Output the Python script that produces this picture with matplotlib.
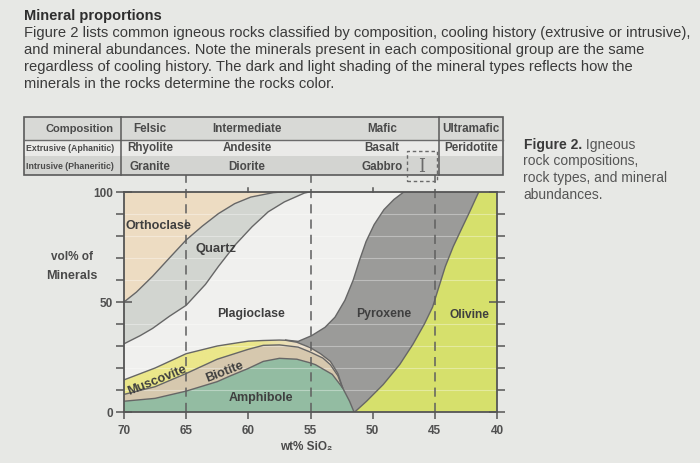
import numpy as np
import matplotlib
matplotlib.use('Agg')
import matplotlib.pyplot as plt
from matplotlib import font_manager
from matplotlib.patches import Polygon, Rectangle
from matplotlib.colors import to_rgb

# ---------------- data ----------------
sio2_ticks = [70, 65, 60, 55, 50, 45, 40]
vol_ticks = [0, 50, 100]
vol_minor = [10, 20, 30, 40, 60, 70, 80, 90]
group_bounds = [65, 55, 45]

# boundary curves: wt% SiO2 (x) vs cumulative vol% (y)
orth_x = [70, 69.0, 67.7, 66.35, 65, 63.7, 62.4, 61.1, 59.8, 58.0, 57.3]
orth_y = [50, 54.5, 61.7, 70, 78.2, 84.5, 90.2, 94.7, 97.7, 99.7, 100]

quartz_x = [70, 68.7, 67.7, 66.35, 65, 63.45, 62.4, 61.05, 59.7, 58.4, 57.1, 55.5, 55.1]
quartz_y = [31, 34.7, 38, 43.5, 48.5, 58, 66.2, 76, 84.2, 91, 95.5, 99.5, 100]

musc_x = [70, 67.5, 65, 62.5, 61.5, 60, 58.8, 57.5, 57, 56.1, 55, 54.2, 53.4, 52.8, 52.42]
musc_y = [14.6, 20, 26.5, 30, 30.9, 32.2, 32.5, 32.7, 32.6, 31.7, 29.2, 26.5, 23, 17.5, 11]

bio_x = [70, 67.5, 65, 62.5, 61.5, 60, 58.8, 57.5, 56, 55, 54, 53.4, 52.8, 52.42]
bio_y = [8, 11.5, 17.5, 24, 25.8, 28.5, 30.3, 30.5, 29.5, 27.2, 24.5, 21.5, 16.5, 11]

amph_x = [70, 67.5, 65, 62.5, 61.5, 60, 58.8, 57.5, 56.1, 55, 54.6, 53.25, 52.42, 51.86, 51.5]
amph_y = [4.9, 6.2, 9.5, 13.8, 16.3, 19.8, 23, 24.4, 24, 22.3, 21.5, 17.1, 11, 4.9, 0]

pyx_x = [57, 55.99, 54.91, 53.83, 53.03, 52.23, 51.57, 51.05, 50.53, 49.88, 49.09, 48.29, 47.5]
pyx_y = [32.7, 32.1, 34.7, 38.5, 43.1, 50.8, 59.9, 69.1, 77.5, 85.2, 92, 96.6, 100]

oliv_x = [51.44, 50.49, 49.15, 47.81, 46.75, 45.83, 45.18, 44.67, 44.16, 43.52, 42.88, 42.24, 41.47]
oliv_y = [0, 4.9, 12.5, 21.7, 30.9, 40.1, 47.7, 56.9, 66.1, 75.2, 82.9, 90.5, 100]

mineral_names = ['Orthoclase', 'Quartz', 'Plagioclase', 'Muscovite',
                 'Biotite', 'Amphibole', 'Pyroxene', 'Olivine']

compositions = ['Felsic', 'Intermediate', 'Mafic', 'Ultramafic']
extrusive_rocks = ['Rhyolite', 'Andesite', 'Basalt', 'Peridotite']
intrusive_rocks = ['Granite', 'Diorite', 'Gabbro', '']
row_labels = ['Composition', 'Extrusive (Aphanitic)', 'Intrusive (Phaneritic)']

title = 'Mineral proportions'
paragraph = [
    'Figure 2 lists common igneous rocks classified by composition, cooling history (extrusive or intrusive),',
    'and mineral abundances. Note the minerals present in each compositional group are the same',
    'regardless of cooling history. The dark and light shading of the mineral types reflects how the',
    'minerals in the rocks determine the rocks color.',
]
caption_bold = 'Figure 2.'
caption_lines = [' Igneous', 'rock compositions,', 'rock types, and mineral', 'abundances.']

# ---------------- fonts ----------------
names = {f.name for f in font_manager.fontManager.ttflist}
SANS = 'Liberation Sans' if 'Liberation Sans' in names else 'DejaVu Sans'
NARROW = 'Liberation Sans Narrow' if 'Liberation Sans Narrow' in names else SANS
FAM = [SANS, 'DejaVu Sans']
NFAM = [NARROW, 'DejaVu Sans']

W, H = 700, 464
fig = plt.figure(figsize=(W / 100, H / 100), dpi=100)
fig.patch.set_facecolor('#e7e8e5')
r = fig.canvas.get_renderer()


def P(x, y):
    return (x / W, 1 - y / H)


def fit(t, w):
    bb = t.get_window_extent(r)
    t.set_fontsize(t.get_fontsize() * w / bb.width)
    return t


# ---------------- page text ----------------
fig.text(*P(24, 20), title, family=FAM, weight='bold', fontsize=10.5,
         color='#2e2e2e', va='baseline', ha='left')
pys = [37, 54, 71, 87.5]
t0 = fig.text(*P(24, pys[0]), paragraph[0], family=FAM, fontsize=10,
              color='#3a3a3a', va='baseline', ha='left')
fit(t0, 664)
fs_par = t0.get_fontsize()
for s, yy in zip(paragraph[1:], pys[1:]):
    fig.text(*P(24, yy), s, family=FAM, fontsize=fs_par, color='#3a3a3a',
             va='baseline', ha='left')

# caption at right
cb = fig.text(*P(524, 149), caption_bold, family=FAM, weight='bold',
              fontsize=9.5, color='#3a3a3a', va='baseline', ha='left')
t3 = fig.text(*P(523, 182), caption_lines[2], family=FAM, fontsize=9.5,
              color='#555555', va='baseline', ha='left')
fit(t3, 143)
fs_cap = t3.get_fontsize()
cb.set_fontsize(fs_cap)
bbx = cb.get_window_extent(r)
fig.text(bbx.x1 / W, 1 - 149 / H, caption_lines[0], family=FAM,
         fontsize=fs_cap, color='#555555', va='baseline', ha='left')
fig.text(*P(523, 165.5), caption_lines[1], family=FAM, fontsize=fs_cap,
         color='#555555', va='baseline', ha='left')
fig.text(*P(523, 199), caption_lines[3], family=FAM, fontsize=fs_cap,
         color='#555555', va='baseline', ha='left')

# ---------------- table ----------------
tl, tr = 24, 503
rows_y = [118.3, 140.7, 156.7, 175.7]
row_cols = ['#d8d9d6', '#eaeae8', '#d3d4d1']
for i, c in enumerate(row_cols):
    fig.patches.append(Rectangle(P(tl, rows_y[i + 1]), (tr - tl) / W,
                                 (rows_y[i + 1] - rows_y[i]) / H,
                                 transform=fig.transFigure, facecolor=c,
                                 edgecolor='none', zorder=0))
fig.patches.append(Rectangle(P(tl, rows_y[3]), (tr - tl) / W,
                             (rows_y[3] - rows_y[0]) / H,
                             transform=fig.transFigure, facecolor='none',
                             edgecolor='#5a5a5a', lw=1.2, zorder=1))
fig.add_artist(plt.Line2D([tl / W, tr / W], [1 - rows_y[1] / H] * 2,
                          transform=fig.transFigure, color='#6a6a6a', lw=1))
for xx in [120.7, 439.3]:
    fig.add_artist(plt.Line2D([xx / W] * 2, [1 - rows_y[0] / H, 1 - rows_y[3] / H],
                              transform=fig.transFigure, color='#5a5a5a', lw=1.1))

# labels column
lab_y = [129.5, 148.5, 166.5]
lt = fig.text(*P(114, lab_y[1]), row_labels[1], family=NFAM, weight='bold',
              fontsize=7, color='#4a4a4a', ha='right', va='center')
fit(lt, 88)
fs_lab = lt.get_fontsize()
fig.text(*P(114, lab_y[2]), row_labels[2], family=NFAM, weight='bold',
         fontsize=fs_lab, color='#4a4a4a', ha='right', va='center')
ct = fig.text(*P(114, lab_y[0]), row_labels[0], family=NFAM, weight='bold',
              fontsize=8, color='#4a4a4a', ha='right', va='center')
fit(ct, 68)

col_x = [150, 247, 382, 471]
ht = fig.text(*P(col_x[1], lab_y[0]), compositions[1], family=NFAM,
              weight='bold', fontsize=8, color='#4a4a4a', ha='center', va='center')
fit(ht, 70)
fs_col = ht.get_fontsize()
for j in range(4):
    if j != 1:
        fig.text(*P(col_x[j], lab_y[0]), compositions[j], family=NFAM,
                 weight='bold', fontsize=fs_col, color='#4a4a4a',
                 ha='center', va='center')
    fig.text(*P(col_x[j], lab_y[1]), extrusive_rocks[j], family=NFAM,
             weight='bold', fontsize=fs_col, color='#4a4a4a',
             ha='center', va='center')
    if intrusive_rocks[j]:
        fig.text(*P(col_x[j], lab_y[2]), intrusive_rocks[j], family=NFAM,
                 weight='bold', fontsize=fs_col, color='#4a4a4a',
                 ha='center', va='center')

# dashed selection box with text cursor
fig.patches.append(Rectangle(P(407, 182), 30 / W, 30 / H,
                             transform=fig.transFigure, facecolor='none',
                             edgecolor='#6a6a6a', lw=1, ls=(0, (2.5, 2)), zorder=2))
fig.text(*P(422, 167), 'I', family=['DejaVu Serif'], fontsize=13,
         color='#6a6a6a', ha='center', va='center')

# ---------------- chart ----------------
ax = fig.add_axes([124 / W, 1 - 413 / H, 373 / W, 220 / H])
ax.set_facecolor('#f0f0ee')
ax.set_xlim(70, 40)
ax.set_ylim(0, 100)

C = dict(orth='#eddcc2', quartz='#d2d5d0', plag='#f0f0ee', musc='#ebe78a',
         cream='#eadcc6', bio='#d6c8ae', amph='#93bca2', pyx='#9b9b99',
         oliv='#d6e06c')
EDGE = '#666666'


def poly(xs, ys, color, z=1):
    p = Polygon(np.column_stack([xs, ys]), closed=True, facecolor=color,
                edgecolor='none', zorder=z)
    ax.add_patch(p)
    return p


mx = np.array(musc_x); my = np.array(musc_y)
qx = np.array(quartz_x); qy = np.array(quartz_y)
px_ = np.array(pyx_x); py_ = np.array(pyx_y)
ax_ = np.array(amph_x); ay_ = np.array(amph_y)
bx = np.array(bio_x); by = np.array(bio_y)
ox = np.array(orth_x); oy = np.array(orth_y)
vx = np.array(oliv_x); vy = np.array(oliv_y)
MEET = musc_x[-1]

# orthoclase
poly(np.r_[ox, 70], np.r_[oy, 100], C['orth'])
# quartz
poly(np.r_[ox, qx[::-1]], np.r_[oy, qy[::-1]], C['quartz'])
# plagioclase
left = mx >= pyx_x[0]
poly(np.r_[qx, px_[::-1], mx[left][::-1]], np.r_[qy, py_[::-1], my[left][::-1]], C['plag'])
# pyroxene
right = mx <= pyx_x[0]
atail = ax_ <= MEET
poly(np.r_[mx[right], ax_[atail], vx, px_[::-1]],
     np.r_[my[right], ay_[atail], vy, py_[::-1]], C['pyx'])
# olivine
poly(np.r_[vx, 40, 40], np.r_[vy, 100, 0], C['oliv'])
# amphibole
poly(np.r_[ax_, 70], np.r_[ay_, 0], C['amph'])
# biotite
ahead = ax_ >= MEET
poly(np.r_[bx, ax_[ahead][::-1]], np.r_[by, ay_[ahead][::-1]], C['bio'])
# muscovite band (yellow fading to cream)
band = poly(np.r_[mx, bx[::-1]], np.r_[my, by[::-1]], 'none', z=2)
gx = np.linspace(70, 52, 300)
tt = np.clip((59.5 - gx) / 3.5, 0, 1)[:, None]
img = (1 - tt) * np.array(to_rgb(C['musc'])) + tt * np.array(to_rgb(C['cream']))
im = ax.imshow(img[None, :, :], extent=(70, 52, 0, 40), aspect='auto',
               zorder=2, interpolation='bilinear')
im.set_clip_path(band)
ax.set_xlim(70, 40)
ax.set_ylim(0, 100)

# faint horizontal lines
for v in vol_minor:
    ax.axhline(v, color='white', lw=0.8, alpha=0.35, zorder=2.5)

# boundary lines
for xs, ys in [(ox, oy), (qx, qy), (mx, my), (bx, by), (ax_, ay_), (px_, py_), (vx, vy)]:
    ax.plot(xs, ys, color=EDGE, lw=1.0, zorder=3, solid_joinstyle='round')

# dashed group boundaries (continue up through the table)
for gb in group_bounds:
    ax.plot([gb, gb], [0, 134], color='#5f5f5f', lw=1.1, ls=(0, (6, 4)),
            zorder=4, clip_on=False)

# spines & ticks
for s in ax.spines.values():
    s.set_color('#555555')
    s.set_linewidth(1.3)
    s.set_zorder(5)
ax.set_xticks(sio2_ticks)
ax.set_xticklabels([str(v) for v in sio2_ticks])
ax.set_yticks(vol_ticks)
ax.set_yticklabels([str(v) for v in vol_ticks])
ax.set_yticks(vol_minor, minor=True)
ax.tick_params(axis='y', which='major', direction='inout', length=12, width=1.1,
               color='#555555', labelsize=8.5, labelcolor='#505050', pad=2,
               right=True)
ax.tick_params(axis='y', which='minor', direction='out', length=6, width=1.1,
               color='#555555', right=True)
ax.tick_params(axis='x', which='major', direction='out', length=5, width=1.1,
               color='#555555', labelsize=8.5, labelcolor='#505050', pad=4)
for lab in ax.get_xticklabels() + ax.get_yticklabels():
    lab.set_fontweight('bold')
    lab.set_family(FAM)
# small ticks on top edge
for v in [60, 50]:
    ax.plot([v, v], [100, 102], color='#555555', lw=1.1, clip_on=False, zorder=5)

# axis titles
for s, yy in zip(['vol% of', 'Minerals'], [257, 276]):
    t = fig.text(*P(72, yy), s, family=FAM, weight='bold', fontsize=8.5,
                 color='#4a4a4a', ha='center', va='center')
    if s == 'Minerals':
        fit(t, 51)
fig.text(*P(306, 447), 'wt% SiO\u2082', family=FAM, weight='bold', fontsize=8.5,
         color='#4a4a4a', ha='center', va='center')

# mineral labels
lab_pos = {'Orthoclase': (67.2, 85.0, 66, 0), 'Quartz': (62.6, 74.5, 41, 0),
           'Plagioclase': (59.8, 45.0, 68, 0), 'Muscovite': (67.3, 15.0, 63, 22),
           'Biotite': (61.9, 18.6, 40, 21), 'Amphibole': (59.0, 6.8, 65, 0),
           'Pyroxene': (49.1, 45.0, 55, 0), 'Olivine': (42.2, 44.5, 40, 0)}
for name in mineral_names:
    x, y, w, rot = lab_pos[name]
    t = ax.text(x, y, name, family=FAM, weight='bold', fontsize=8.5,
                color='#3f3f3f', ha='center', va='center', zorder=6)
    fit(t, w)
    t.set_rotation(rot)
    t.set_rotation_mode('anchor')

fig.savefig('out.png', dpi=100, facecolor=fig.get_facecolor())
